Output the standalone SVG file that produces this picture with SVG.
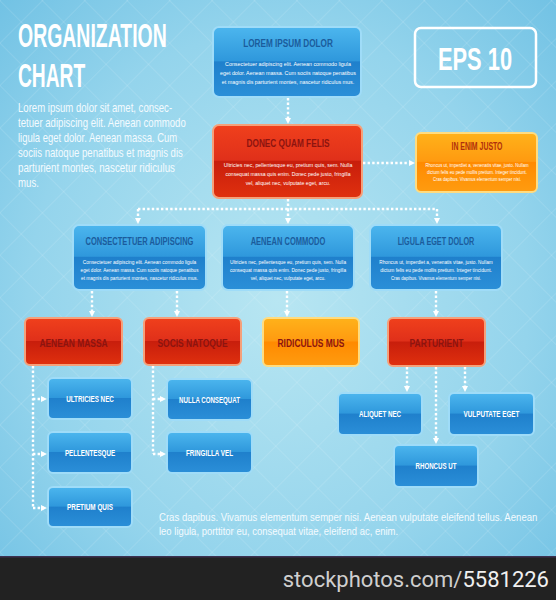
<svg xmlns="http://www.w3.org/2000/svg" width="556" height="600" viewBox="0 0 556 600">
<defs>
<radialGradient id="bg" cx="0.5" cy="0.5" r="0.75">
<stop offset="0" stop-color="#b8e6f2"/>
<stop offset="0.6" stop-color="#94d4ec"/>
<stop offset="1" stop-color="#6cbfe3"/>
</radialGradient>
<pattern id="grid" width="30" height="30" patternUnits="userSpaceOnUse" patternTransform="rotate(45)">
<path d="M0 0H30M0 0V30" stroke="#ffffff" stroke-opacity="0.22" stroke-width="1" fill="none"/>
</pattern>
<linearGradient id="gBlue" x1="0" y1="0" x2="0" y2="1">
<stop offset="0" stop-color="#4cb6ee"/>
<stop offset="0.48" stop-color="#2f98dc"/>
<stop offset="0.5" stop-color="#1f80cc"/>
<stop offset="1" stop-color="#2b8fd8"/>
</linearGradient>
<linearGradient id="gRed" x1="0" y1="0" x2="0" y2="1">
<stop offset="0" stop-color="#f0401c"/>
<stop offset="0.48" stop-color="#e0301a"/>
<stop offset="0.5" stop-color="#c81e0c"/>
<stop offset="1" stop-color="#e0300e"/>
</linearGradient>
<linearGradient id="gOrange" x1="0" y1="0" x2="0" y2="1">
<stop offset="0" stop-color="#ffb21a"/>
<stop offset="0.48" stop-color="#ff9a10"/>
<stop offset="0.5" stop-color="#ff8a00"/>
<stop offset="1" stop-color="#ff9c10"/>
</linearGradient>
<marker id="arr" viewBox="0 0 10 10" refX="5" refY="5" markerWidth="6" markerHeight="6" markerUnits="userSpaceOnUse" orient="auto">
<path d="M0 0L10 5L0 10Z" fill="#ffffff"/>
</marker>
<style>
.cond{font-family:"Liberation Sans",Arial,sans-serif;}
.blue{fill:url(#gBlue);stroke:#9fdcf8;stroke-width:2;}
.red{fill:url(#gRed);stroke:#f5a07a;stroke-width:2;}
.orange{fill:url(#gOrange);stroke:#ffdc80;stroke-width:2;}
.tb{font-weight:bold;fill:#1b5c9c;text-anchor:middle;}
.tr{font-weight:bold;fill:#8c1410;text-anchor:middle;}
.to{font-weight:bold;fill:#b0300c;text-anchor:middle;}
.tw{font-weight:bold;fill:#ffffff;text-anchor:middle;font-size:9px;}
.body{fill:#ffffff;text-anchor:middle;font-size:5.6px;}
.conn{stroke:#ffffff;stroke-width:2.4;stroke-dasharray:2.4 2.2;fill:none;}
</style>
</defs>
<rect width="556" height="600" fill="url(#bg)"/>
<rect width="556" height="600" fill="url(#grid)"/>

<g id="title" class="cond" fill="#ffffff">
<text transform="translate(18,47) scale(0.57,1)" font-size="34" font-weight="bold" textLength="261" lengthAdjust="spacingAndGlyphs">ORGANIZATION</text>
<text transform="translate(18,87) scale(0.56,1)" font-size="34" font-weight="bold" textLength="120" lengthAdjust="spacingAndGlyphs">CHART</text>
<g font-size="13" fill="#f4fbff">
<text transform="translate(18,112) scale(0.72,1)" textLength="214" lengthAdjust="spacingAndGlyphs">Lorem ipsum dolor sit amet, consec-</text>
<text transform="translate(18,127) scale(0.72,1)" textLength="233" lengthAdjust="spacingAndGlyphs">tetuer adipiscing elit. Aenean commodo</text>
<text transform="translate(18,142) scale(0.72,1)" textLength="221" lengthAdjust="spacingAndGlyphs">ligula eget dolor. Aenean massa. Cum</text>
<text transform="translate(18,157) scale(0.72,1)" textLength="229" lengthAdjust="spacingAndGlyphs">sociis natoque penatibus et magnis dis</text>
<text transform="translate(18,172) scale(0.72,1)" textLength="218" lengthAdjust="spacingAndGlyphs">parturient montes, nascetur ridiculus</text>
<text transform="translate(18,187) scale(0.72,1)" textLength="29" lengthAdjust="spacingAndGlyphs">mus.</text>
</g>
</g>

<g id="eps">
<rect x="415" y="28" width="121" height="59" rx="6" fill="none" stroke="#ffffff" stroke-width="2.5"/>
<text transform="translate(475,70) scale(0.68,1)" class="cond" font-size="32" font-weight="bold" fill="#ffffff" text-anchor="middle" textLength="109" lengthAdjust="spacingAndGlyphs">EPS 10</text>
</g>

<g id="connectors">
<path class="conn" d="M288 98V121" marker-end="url(#arr)"/>
<path class="conn" d="M363 163H412" marker-end="url(#arr)"/>
<path class="conn" d="M288 199V209M138 209H437"/>
<path class="conn" d="M138 209V221" marker-end="url(#arr)"/>
<path class="conn" d="M288 209V221" marker-end="url(#arr)"/>
<path class="conn" d="M437 209V221" marker-end="url(#arr)"/>
<path class="conn" d="M92 291V314" marker-end="url(#arr)"/>
<path class="conn" d="M177 291V314" marker-end="url(#arr)"/>
<path class="conn" d="M287 291V314" marker-end="url(#arr)"/>
<path class="conn" d="M436 291V314" marker-end="url(#arr)"/>
<path class="conn" d="M33 366V508"/>
<path class="conn" d="M33 399H44" marker-end="url(#arr)"/>
<path class="conn" d="M33 454H44" marker-end="url(#arr)"/>
<path class="conn" d="M33 508H44" marker-end="url(#arr)"/>
<path class="conn" d="M153 366V454"/>
<path class="conn" d="M153 399H163" marker-end="url(#arr)"/>
<path class="conn" d="M153 454H163" marker-end="url(#arr)"/>
<path class="conn" d="M407 367V389" marker-end="url(#arr)"/>
<path class="conn" d="M465 367V389" marker-end="url(#arr)"/>
<path class="conn" d="M436 367V441" marker-end="url(#arr)"/>
</g>

<g id="n-lorem" class="cond">
<rect x="213" y="27" width="148" height="70" rx="6" class="blue"/>
<text transform="translate(288,47) scale(0.68,1)" font-size="11.5" class="tb" textLength="132" lengthAdjust="spacingAndGlyphs">LOREM IPSUM DOLOR</text>
<text transform="translate(288,66) scale(0.9,1)" class="body" textLength="140" lengthAdjust="spacingAndGlyphs">Consectetuer adipiscing elit. Aenean commodo ligula</text>
<text transform="translate(288,75) scale(0.9,1)" class="body" textLength="151" lengthAdjust="spacingAndGlyphs">eget dolor. Aenean massa. Cum sociis natoque penatibus</text>
<text transform="translate(288,84) scale(0.9,1)" class="body" textLength="147" lengthAdjust="spacingAndGlyphs">et magnis dis parturient montes, nascetur ridiculus mus.</text>
</g>

<g id="n-donec" class="cond">
<rect x="213" y="125" width="149" height="73" rx="6" class="red"/>
<text transform="translate(288,147) scale(0.68,1)" font-size="11.5" class="tr" textLength="122" lengthAdjust="spacingAndGlyphs">DONEC QUAM FELIS</text>
<text transform="translate(288,167) scale(0.9,1)" class="body" textLength="143" lengthAdjust="spacingAndGlyphs">Ultricies nec, pellentesque eu, pretium quis, sem. Nulla</text>
<text transform="translate(288,176) scale(0.9,1)" class="body" textLength="139" lengthAdjust="spacingAndGlyphs">consequat massa quis enim. Donec pede justo, fringilla</text>
<text transform="translate(288,185) scale(0.9,1)" class="body" textLength="94" lengthAdjust="spacingAndGlyphs">vel, aliquet nec, vulputate eget, arcu.</text>
</g>

<g id="n-enim" class="cond">
<rect x="416" y="133" width="121" height="59" rx="5" class="orange"/>
<text transform="translate(477,150) scale(0.68,1)" font-size="10" class="to" textLength="75" lengthAdjust="spacingAndGlyphs">IN ENIM JUSTO</text>
<text transform="translate(477,167) scale(0.8,1)" class="body" font-size="5" textLength="129" lengthAdjust="spacingAndGlyphs">Rhoncus ut, imperdiet a, venenatis vitae, justo. Nullam</text>
<text transform="translate(477,174) scale(0.8,1)" class="body" font-size="5" textLength="125" lengthAdjust="spacingAndGlyphs">dictum felis eu pede mollis pretium. Integer tincidunt.</text>
<text transform="translate(477,181) scale(0.8,1)" class="body" font-size="5" textLength="110" lengthAdjust="spacingAndGlyphs">Cras dapibus. Vivamus elementum semper nisi.</text>
</g>

<g id="n-consectetuer" class="cond">
<rect x="73" y="225" width="133" height="65" rx="6" class="blue"/>
<text transform="translate(139.5,245) scale(0.65,1)" font-size="11" class="tb" textLength="166" lengthAdjust="spacingAndGlyphs">CONSECTETUER ADIPISCING</text>
<text transform="translate(139.5,264) scale(0.9,1)" class="body" textLength="126" lengthAdjust="spacingAndGlyphs">Consectetuer adipiscing elit. Aenean commodo ligula</text>
<text transform="translate(139.5,272) scale(0.9,1)" class="body" textLength="131" lengthAdjust="spacingAndGlyphs">eget dolor. Aenean massa. Cum sociis natoque penatibus</text>
<text transform="translate(139.5,280) scale(0.9,1)" class="body" textLength="130" lengthAdjust="spacingAndGlyphs">et magnis dis parturient montes, nascetur ridiculus mus.</text>
</g>

<g id="n-aenean-commodo" class="cond">
<rect x="222" y="225" width="132" height="65" rx="6" class="blue"/>
<text transform="translate(288,245) scale(0.65,1)" font-size="11" class="tb" textLength="115" lengthAdjust="spacingAndGlyphs">AENEAN COMMODO</text>
<text transform="translate(288,264) scale(0.9,1)" class="body" textLength="129" lengthAdjust="spacingAndGlyphs">Ultricies nec, pellentesque eu, pretium quis, sem. Nulla</text>
<text transform="translate(288,272) scale(0.9,1)" class="body" textLength="129" lengthAdjust="spacingAndGlyphs">consequat massa quis enim. Donec pede justo, fringilla</text>
<text transform="translate(288,280) scale(0.9,1)" class="body" textLength="83" lengthAdjust="spacingAndGlyphs">vel, aliquet nec, vulputate eget, arcu.</text>
</g>

<g id="n-ligula" class="cond">
<rect x="370" y="225" width="132" height="65" rx="6" class="blue"/>
<text transform="translate(436,245) scale(0.65,1)" font-size="11" class="tb" textLength="118" lengthAdjust="spacingAndGlyphs">LIGULA EGET DOLOR</text>
<text transform="translate(436,264) scale(0.9,1)" class="body" textLength="126" lengthAdjust="spacingAndGlyphs">Rhoncus ut, imperdiet a, venenatis vitae, justo. Nullam</text>
<text transform="translate(436,272) scale(0.9,1)" class="body" textLength="124" lengthAdjust="spacingAndGlyphs">dictum felis eu pede mollis pretium. Integer tincidunt.</text>
<text transform="translate(436,280) scale(0.9,1)" class="body" textLength="100" lengthAdjust="spacingAndGlyphs">Cras dapibus. Vivamus elementum semper nisi.</text>
</g>

<g id="n-aenean-massa" class="cond">
<rect x="25" y="318" width="97" height="47" rx="5" class="red"/>
<text transform="translate(73.5,347) scale(0.65,1)" font-size="11.5" class="tr" textLength="105" lengthAdjust="spacingAndGlyphs">AENEAN MASSA</text>
</g>
<g id="n-socis" class="cond">
<rect x="144" y="318" width="97" height="47" rx="5" class="red"/>
<text transform="translate(192.5,347) scale(0.65,1)" font-size="11.5" class="tr" textLength="108" lengthAdjust="spacingAndGlyphs">SOCIS NATOQUE</text>
</g>
<g id="n-ridiculus" class="cond">
<rect x="263" y="318" width="96" height="48" rx="5" class="orange"/>
<text transform="translate(311,347) scale(0.65,1)" font-size="11.5" class="tr" textLength="103" lengthAdjust="spacingAndGlyphs">RIDICULUS MUS</text>
</g>
<g id="n-parturient" class="cond">
<rect x="388" y="318" width="97" height="48" rx="5" class="red"/>
<text transform="translate(436.5,347) scale(0.65,1)" font-size="11.5" class="tr" textLength="83" lengthAdjust="spacingAndGlyphs">PARTURIENT</text>
</g>

<g id="n-ultricies" class="cond">
<rect x="48" y="378" width="84" height="41" rx="5" class="blue"/>
<text transform="translate(90,402) scale(0.62,1)" class="tw" textLength="77" lengthAdjust="spacingAndGlyphs">ULTRICIES NEC</text>
</g>
<g id="n-pellentesque" class="cond">
<rect x="48" y="432" width="84" height="41" rx="5" class="blue"/>
<text transform="translate(90,456) scale(0.62,1)" class="tw" textLength="81" lengthAdjust="spacingAndGlyphs">PELLENTESQUE</text>
</g>
<g id="n-pretium" class="cond">
<rect x="48" y="487" width="84" height="40" rx="5" class="blue"/>
<text transform="translate(90,510) scale(0.62,1)" class="tw" textLength="74" lengthAdjust="spacingAndGlyphs">PRETIUM QUIS</text>
</g>
<g id="n-nulla" class="cond">
<rect x="167" y="379" width="85" height="41" rx="5" class="blue"/>
<text transform="translate(209.5,403) scale(0.62,1)" class="tw" textLength="98" lengthAdjust="spacingAndGlyphs">NULLA CONSEQUAT</text>
</g>
<g id="n-fringilla" class="cond">
<rect x="167" y="432" width="85" height="41" rx="5" class="blue"/>
<text transform="translate(209.5,456) scale(0.62,1)" class="tw" textLength="76" lengthAdjust="spacingAndGlyphs">FRINGILLA VEL</text>
</g>
<g id="n-aliquet" class="cond">
<rect x="338" y="393" width="84" height="42" rx="5" class="blue"/>
<text transform="translate(380,417) scale(0.62,1)" class="tw" textLength="68" lengthAdjust="spacingAndGlyphs">ALIQUET NEC</text>
</g>
<g id="n-vulputate" class="cond">
<rect x="449" y="393" width="85" height="42" rx="5" class="blue"/>
<text transform="translate(491.5,417) scale(0.62,1)" class="tw" textLength="90" lengthAdjust="spacingAndGlyphs">VULPUTATE EGET</text>
</g>
<g id="n-rhoncus" class="cond">
<rect x="394" y="445" width="84" height="42" rx="5" class="blue"/>
<text transform="translate(436,469) scale(0.62,1)" class="tw" textLength="66" lengthAdjust="spacingAndGlyphs">RHONCUS UT</text>
</g>

<g id="footnote" class="cond" font-size="11" fill="#f4fbff">
<text transform="translate(159,521) scale(0.86,1)" textLength="440" lengthAdjust="spacingAndGlyphs">Cras dapibus. Vivamus elementum semper nisi. Aenean vulputate eleifend tellus. Aenean</text>
<text transform="translate(159,535) scale(0.86,1)" textLength="278" lengthAdjust="spacingAndGlyphs">leo ligula, porttitor eu, consequat vitae, eleifend ac, enim.</text>
</g>

<g id="footer">
<rect x="0" y="556" width="556" height="44" fill="#222222"/>
<rect x="0" y="556" width="556" height="1.5" fill="#3b3150"/>
<text x="549" y="587" font-family="Roboto,'Liberation Sans',sans-serif" font-size="22" text-anchor="end" fill="#cfcfcf">stockphotos.com/<tspan fill="#f0f0f0">5581226</tspan></text>
</g>
</svg>
